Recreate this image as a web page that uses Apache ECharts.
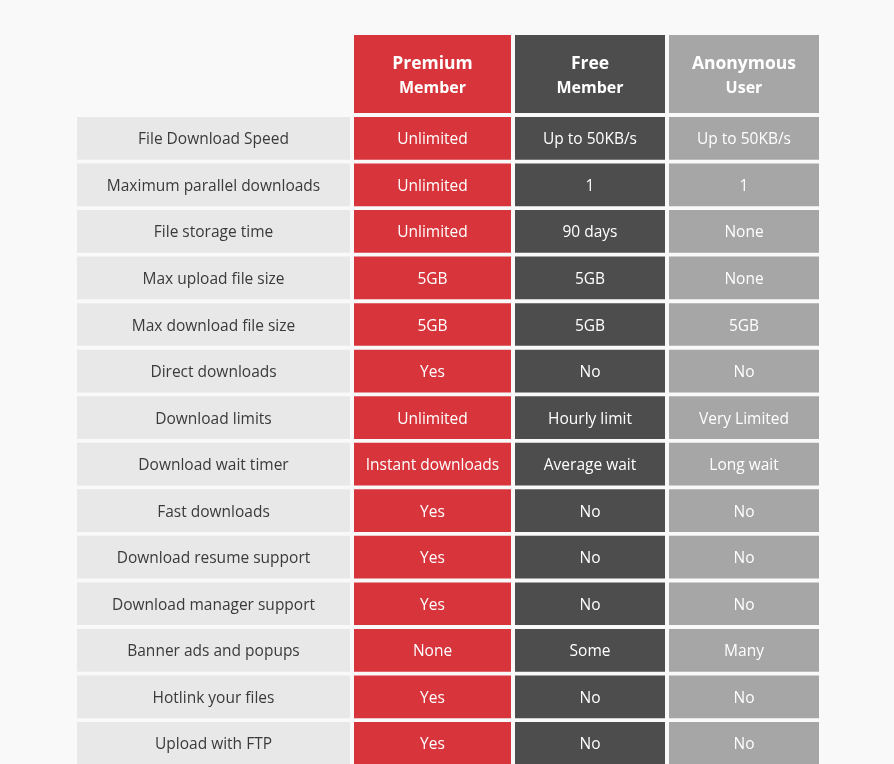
<!DOCTYPE html>
<html>
<head>
<meta charset="utf-8">
<script src="https://cdn.jsdelivr.net/npm/echarts@6/dist/echarts.min.js"></script>
<style>
html,body{margin:0;padding:0;background:#f9f9f9;}
#c{width:894px;height:764px;}
</style>
</head>
<body>
<div id="c"></div>
<script>
const features = ["File Download Speed","Maximum parallel downloads","File storage time","Max upload file size","Max download file size","Direct downloads","Download limits","Download wait timer","Fast downloads","Download resume support","Download manager support","Banner ads and popups","Hotlink your files","Upload with FTP"];
const premium = ["Unlimited","Unlimited","Unlimited","5GB","5GB","Yes","Unlimited","Instant downloads","Yes","Yes","Yes","None","Yes","Yes"];
const free = ["Up to 50KB/s","1","90 days","5GB","5GB","No","Hourly limit","Average wait","No","No","No","Some","No","No"];
const anonymous = ["Up to 50KB/s","1","None","None","5GB","No","Very Limited","Long wait","No","No","No","Many","No","No"];
const headerTop = ["", "Premium", "Free", "Anonymous"];
const headerBottom = ["", "Member", "Member", "User"];

const colValues = [features, premium, free, anonymous];
const colLeft = [77, 354, 515, 669];
const colWidth = [273, 157, 150, 150];
const colFill = ["#e8e8e8", "#d7353b", "#4d4d4d", "#a6a6a6"];
const colText = ["#3a3a3a", "#ffffff", "#ffffff", "#ffffff"];

const H = 764;
const rowPitch = 46.54, rowGap = 3.84;
const bodyTop = 117 - rowGap / 2;
const bodyHeight = H - bodyTop;
const visibleRows = bodyHeight / rowPitch;
const headTop = 35, headH = 78;

const grids = [], xAxes = [], yAxes = [], series = [];
let gi = 0;
for (let c = 1; c < 4; c++) {
  grids.push({left: colLeft[c], width: colWidth[c], top: headTop, height: headH});
  xAxes.push({type: 'category', data: ['h'], gridIndex: gi, show: false});
  yAxes.push({type: 'category', data: ['h'], gridIndex: gi, show: false});
  const fill = colFill[c];
  series.push({
    type: 'custom', xAxisIndex: gi, yAxisIndex: gi,
    data: [[0, 0]],
    renderItem: function (params, api) {
      const p = api.coord([api.value(0), api.value(1)]);
      const s = api.size([1, 1]);
      return {
        type: 'group',
        children: [
          {type: 'rect', shape: {x: p[0] - s[0] / 2, y: p[1] - s[1] / 2, width: s[0], height: s[1]}, style: {fill: fill}},
          {type: 'text', style: {x: p[0], y: p[1] - 10, text: headerTop[c], fill: '#fff', font: 'bold 17.5px "Open Sans"', align: 'center', verticalAlign: 'middle'}},
          {type: 'text', style: {x: p[0], y: p[1] + 14.5, text: headerBottom[c], fill: '#fff', font: 'bold 16px "Open Sans"', align: 'center', verticalAlign: 'middle'}}
        ]
      };
    }
  });
  gi++;
}
for (let c = 0; c < 4; c++) {
  grids.push({left: colLeft[c], width: colWidth[c], top: bodyTop, height: bodyHeight});
  xAxes.push({type: 'category', data: ['v'], gridIndex: gi, show: false});
  yAxes.push({type: 'value', inverse: true, min: -0.5, max: -0.5 + visibleRows, gridIndex: gi, show: false});
  const vals = colValues[c], fill = colFill[c], tc = colText[c];
  series.push({
    type: 'custom', xAxisIndex: gi, yAxisIndex: gi, clip: false,
    data: vals.map((v, i) => [0, i]),
    renderItem: function (params, api) {
      const p = api.coord([api.value(0), api.value(1)]);
      const s = api.size([1, 1]);
      const h = s[1] - rowGap;
      return {
        type: 'group',
        children: [
          {type: 'rect', shape: {x: p[0] - s[0] / 2, y: p[1] - h / 2, width: s[0], height: h}, style: {fill: fill}},
          {type: 'text', style: {x: p[0], y: p[1] + 1.6, text: vals[params.dataIndex], fill: tc, font: '15.5px "Open Sans"', align: 'center', verticalAlign: 'middle'}}
        ]
      };
    }
  });
  gi++;
}

const chart = echarts.init(document.getElementById('c'));
chart.setOption({
  backgroundColor: '#f9f9f9',
  animation: false,
  grid: grids, xAxis: xAxes, yAxis: yAxes, series: series
});
</script>
</body>
</html>
